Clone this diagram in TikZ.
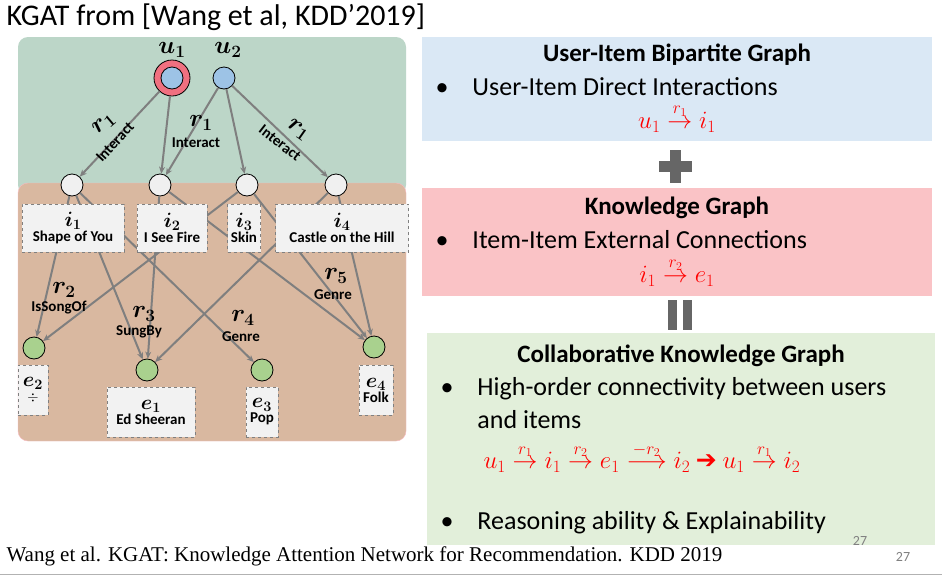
\documentclass[tikz,border=0pt]{standalone}
\usepackage{amsmath,amssymb}
\usepackage{fontspec}
\setmainfont{Carlito}
\newfontfamily\serifx{Liberation Serif}
\newfontfamily\djv{DejaVu Sans}
\usetikzlibrary{arrows.meta}
\definecolor{edg}{HTML}{7F7F7F}
\definecolor{ured}{HTML}{F07080}
\definecolor{ublue}{HTML}{9DC3E6}
\definecolor{egreen}{HTML}{A9D18E}
\definecolor{tealbg}{HTML}{BCD6C8}
\definecolor{brownbg}{HTML}{D9B8A0}
\definecolor{pblue}{HTML}{DAE8F5}
\definecolor{ppink}{HTML}{FAC3C6}
\definecolor{pgreen}{HTML}{E2EFDA}
\begin{document}
\begin{tikzpicture}[x=1pt,y=-1pt,
  ed/.style={draw=edg,line width=2pt,-{Stealth[length=7pt,width=6pt]}},
  nodec/.style={circle,draw=black,line width=0.8pt,minimum size=22pt,inner sep=0pt},
  lbox/.style={draw=gray,dashed,fill=gray!10,inner sep=0pt,align=center,font=\bfseries\fontsize{15}{15}\selectfont},
  rl/.style={font=\bfseries\fontsize{15}{16}\selectfont},
  ml/.style={font=\fontsize{23}{24}\selectfont},
  rm/.style={text=red,font=\fontsize{25}{26}\selectfont}]
\path[use as bounding box] (0,0) rectangle (942,576);
\fill[white] (0,0) rectangle (942,576);
\node[anchor=west,font=\fontsize{30}{32}\selectfont] (title) at (3,17) {KGAT from [Wang et al, KDD’2019]};
% backgrounds
\fill[tealbg,rounded corners=10pt] (18,37) rectangle (406,195);
\draw[ured!50,fill=brownbg,rounded corners=10pt] (18,183) rectangle (406,441);
% users
\node[circle,fill=ured,draw=black,line width=0.8pt,minimum size=36pt] (u1o) at (172,78) {};
\node[nodec,fill=ublue] (u1) at (172,78) {};
\node[nodec,fill=ublue] (u2) at (224,78) {};
\node[ml] (u1l) at (172,50) {$\boldsymbol{u_1}$};
\node[ml] (u2l) at (228,50) {$\boldsymbol{u_2}$};
% item circles
\foreach \n/\x in {i1/72,i2/160,i3/247,i4/336}
  \node[nodec,fill=gray!12] (\n) at (\x,185) {};
% entity circles
\node[nodec,fill=egreen] (e2) at (34,348) {};
\node[nodec,fill=egreen] (e1) at (147,370) {};
\node[nodec,fill=egreen] (e3) at (262,370) {};
\node[nodec,fill=egreen] (e4) at (374,347) {};
% lower edges
\draw[ed] (i1) -- (e2);
\draw[ed] (i1) -- (e1);
\draw[ed] (i1) -- (e3);
\draw[ed] (i2) -- (e1);
\draw[ed] (i2) -- (e4);
\draw[ed] (i3) -- (e2);
\draw[ed] (i3) -- (e4);
\draw[ed] (i4) -- (e1);
\draw[ed] (i4) -- (e4);
% upper edges
\draw[ed] (u1o) -- (i1);
\draw[ed] (u1o) -- (i2);
\draw[ed] (u2) -- (i2);
\draw[ed] (u2) -- (i3);
\draw[ed] (u2) -- (i4);
% item boxes
\node[lbox,minimum width=102pt,minimum height=48pt] (b1) at (73,228) {\fontsize{22}{20}\selectfont$\boldsymbol{i_1}$\\Shape of You};
\node[lbox,minimum width=70pt,minimum height=48pt] (b2) at (172,228) {\fontsize{22}{20}\selectfont$\boldsymbol{i_2}$\\I See Fire};
\node[lbox,minimum width=33pt,minimum height=48pt] (b3) at (244,228) {\fontsize{22}{20}\selectfont$\boldsymbol{i_3}$\\Skin};
\node[lbox,minimum width=133pt,minimum height=48pt] (b4) at (342,228) {\fontsize{22}{20}\selectfont$\boldsymbol{i_4}$\\Castle on the Hill};
% entity boxes
\node[lbox,minimum width=30pt,minimum height=50pt] (be2) at (33,390) {\fontsize{22}{20}\selectfont$\boldsymbol{e_2}$\\$\div$};
\node[lbox,minimum width=88pt,minimum height=50pt] (be1) at (151,412) {\fontsize{22}{20}\selectfont$\boldsymbol{e_1}$\\Ed Sheeran};
\node[lbox,minimum width=32pt,minimum height=50pt] (be3) at (262,412) {\fontsize{22}{20}\selectfont$\boldsymbol{e_3}$\\Pop};
\node[lbox,minimum width=34pt,minimum height=50pt] (be4) at (376,390) {\fontsize{22}{20}\selectfont$\boldsymbol{e_4}$\\Folk};
% relation labels
\node[ml,rotate=40] (r1a) at (104,124) {$\boldsymbol{r_1}$};
\node[rl,rotate=47] (ia) at (115,142) {Interact};
\node[ml] (r1b) at (201,123) {$\boldsymbol{r_1}$};
\node[rl] (ib) at (196,143) {Interact};
\node[ml,rotate=-35] (r1c) at (298,130) {$\boldsymbol{r_1}$};
\node[rl,rotate=-38] (ic) at (280,143) {Interact};
\node[ml] (r2) at (64,290) {$\boldsymbol{r_2}$};
\node[rl] (r2t) at (59,308) {IsSongOf};
\node[ml] (r3) at (144,314) {$\boldsymbol{r_3}$};
\node[rl] (r3t) at (139,332) {SungBy};
\node[ml] (r4) at (243,318) {$\boldsymbol{r_4}$};
\node[rl] (r4t) at (241,337) {Genre};
\node[ml] (r5) at (336,276) {$\boldsymbol{r_5}$};
\node[rl] (r5t) at (333,295) {Genre};
% right panels
\fill[pblue] (422,37) rectangle (932,141);
\fill[ppink] (422,188) rectangle (932,296);
\fill[pgreen] (427,333) rectangle (935,545);
\node[font=\bfseries\fontsize{25}{26}\selectfont] (h1) at (677,55) {User-Item Bipartite Graph};
\node[anchor=west,font=\fontsize{26}{28}\selectfont] (t1) at (432,87) {\textbullet\hspace{24pt}User-Item Direct Interactions};
\node[rm] (m1) at (677,118) {$u_1\overset{r_1}{\rightarrow}i_1$};
\node[font=\bfseries\fontsize{25}{26}\selectfont] (h2) at (677,208) {Knowledge Graph};
\node[anchor=west,font=\fontsize{26}{28}\selectfont] (t2) at (432,240) {\textbullet\hspace{24pt}Item-Item External Connections};
\node[rm] (m2) at (677,272) {$i_1\overset{r_2}{\rightarrow}e_1$};
\node[font=\bfseries\fontsize{25}{26}\selectfont] (h3) at (681,356) {Collaborative Knowledge Graph};
\node[anchor=west,align=left,font=\fontsize{26}{33}\selectfont] (t3) at (437,403) {\textbullet\hspace{24pt}High-order connectivity between users\\\hphantom{\textbullet}\hspace{24pt}and items};
\node[anchor=west,text=red,font=\fontsize{25}{26}\selectfont] (m3) at (480,457) {$u_1\overset{r_1}{\rightarrow}i_1\overset{r_2}{\rightarrow}e_1\overset{-r_2}{\longrightarrow}i_2$~{\djv\bfseries ➔}~$u_1\overset{r_1}{\rightarrow}i_2$};
\node[anchor=west,font=\fontsize{26}{28}\selectfont] (t4) at (437,523) {\textbullet\hspace{24pt}Reasoning ability \& Explainability};
% plus and equals
\fill[gray!80!black] (670,150) rectangle (681,183);
\fill[gray!80!black] (659,161) rectangle (692,172);
\fill[gray!80!black] (668,300) rectangle (677,330);
\fill[gray!80!black] (683,300) rectangle (692,330);
% footer
\node[anchor=west,font=\serifx\fontsize{21}{22}\selectfont] (foot) at (3,556) {Wang et al. KGAT: Knowledge Attention Network for Recommendation. KDD 2019};
\node[text=gray,font=\fontsize{14}{14}\selectfont] (p1) at (860,541) {27};
\node[text=gray,font=\fontsize{14}{14}\selectfont] (p2) at (903,557) {27};
\draw[gray!60] (0,574) -- (942,574);
\end{tikzpicture}
\end{document}
